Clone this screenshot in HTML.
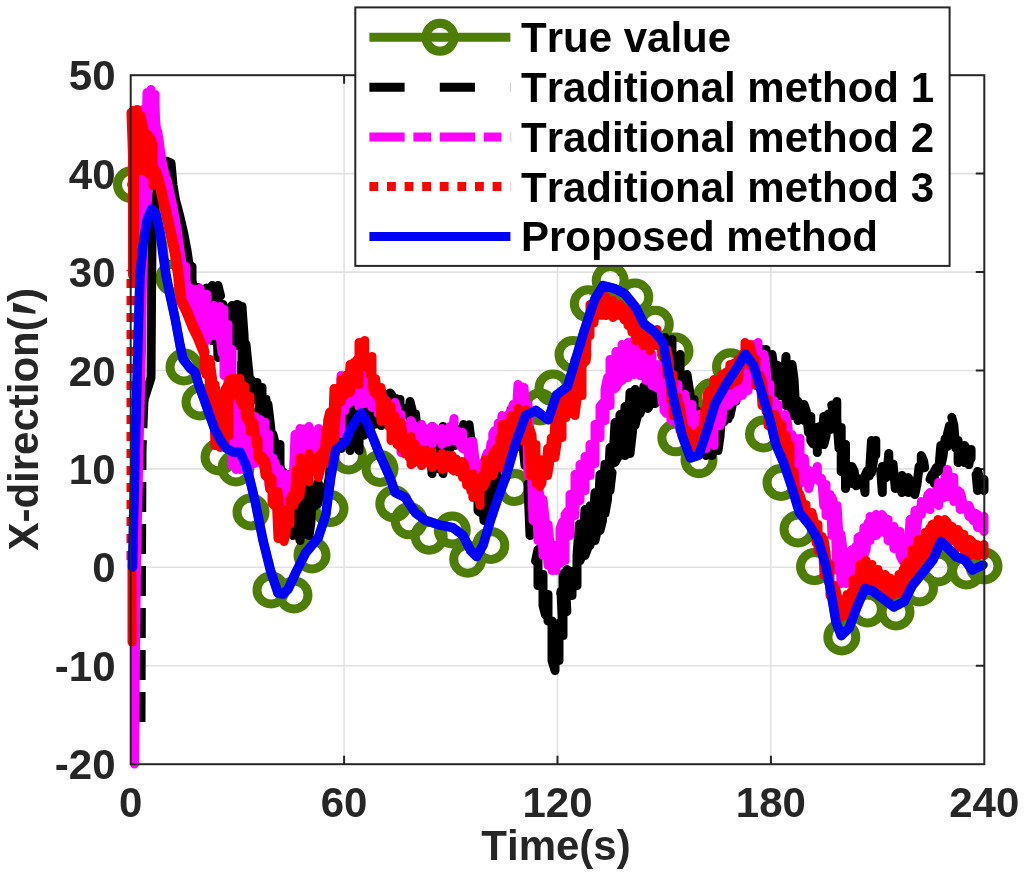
<!DOCTYPE html>
<html><head><meta charset="utf-8"><title>X-direction plot</title>
<style>html,body{margin:0;padding:0;background:#fff;overflow:hidden}svg{display:block}</style>
</head><body>
<svg width="1025" height="877" viewBox="0 0 1025 877">
<rect width="1025" height="877" fill="#fff"/>
<g stroke="#e1e1e1" stroke-width="1.6"><line x1="344.1" y1="75.2" x2="344.1" y2="764.2"/><line x1="557.5" y1="75.2" x2="557.5" y2="764.2"/><line x1="770.9" y1="75.2" x2="770.9" y2="764.2"/><line x1="130.7" y1="173.6" x2="984.3" y2="173.6"/><line x1="130.7" y1="272.1" x2="984.3" y2="272.1"/><line x1="130.7" y1="370.5" x2="984.3" y2="370.5"/><line x1="130.7" y1="468.9" x2="984.3" y2="468.9"/><line x1="130.7" y1="567.3" x2="984.3" y2="567.3"/><line x1="130.7" y1="665.8" x2="984.3" y2="665.8"/></g>
<path d="M344.1 764.2V755.7M344.1 75.2V83.7M557.5 764.2V755.7M557.5 75.2V83.7M770.9 764.2V755.7M770.9 75.2V83.7M130.7 173.6H139.2M984.3 173.6H975.8M130.7 272.1H139.2M984.3 272.1H975.8M130.7 370.5H139.2M984.3 370.5H975.8M130.7 468.9H139.2M984.3 468.9H975.8M130.7 567.3H139.2M984.3 567.3H975.8M130.7 665.8H139.2M984.3 665.8H975.8" stroke="#262626" stroke-width="2" fill="none"/>
<g fill="none" stroke-linejoin="round" stroke-linecap="round">
<polyline stroke="#4d7d05" stroke-width="9.0" points="131.5,184.7 140.0,170.0 147.0,172.0 151.0,190.0 156.0,215.0 163.0,245.0 166.0,275.0 170.0,295.0 175.0,318.0 180.0,345.0 183.0,359.0 190.7,368.7 195.0,372.0 198.7,384.7 203.9,399.0 206.7,407.0 212.8,424.0 214.7,429.4 221.7,442.0 226.0,448.0 233.0,452.0 240.0,452.0 246.0,465.0 250.0,480.0 255.4,502.7 263.0,540.4 270.5,570.5 278.0,593.0 283.0,594.0 288.0,589.3 295.6,573.0 305.6,552.9 318.2,537.8 325.7,515.3 330.7,477.6 335.7,450.0 345.8,441.0 350.0,430.5 356.0,420.0 361.3,412.9 366.0,420.0 370.1,430.5 380.1,455.5 390.2,478.1 395.2,492.6 405.2,497.6 415.3,512.6 425.3,520.2 440.4,525.2 452.9,527.7 462.9,535.2 470.5,550.3 476.7,556.6 483.0,545.3 490.5,520.2 498.1,497.6 505.6,477.5 515.6,443.0 525.6,415.4 535.7,410.4 545.7,417.9 548.2,419.7 556.4,395.0 567.4,386.8 575.6,359.5 583.8,332.1 594.7,299.3 603.0,285.6 613.9,288.3 624.8,293.8 635.8,307.5 644.0,323.9 655.0,332.1 663.2,343.0 668.6,373.2 674.1,400.5 682.3,436.1 690.5,458.0 698.7,455.3 707.0,430.6 715.2,403.3 726.1,384.1 737.0,367.7 745.3,354.0 753.5,365.0 761.7,392.3 769.9,419.7 775.7,444.2 783.6,462.6 791.5,486.2 799.3,512.5 809.8,525.6 817.7,538.7 825.6,564.9 830.8,591.1 836.1,622.6 841.3,635.7 849.2,627.8 857.0,606.9 864.9,588.5 872.8,591.1 883.3,599.0 893.8,606.9 904.2,601.6 912.1,585.9 922.6,572.8 933.1,559.7 941.0,541.3 948.8,549.2 956.7,557.0 964.6,559.7 972.4,570.1 982.9,564.9"/>
<circle cx="131.5" cy="184.7" r="14" stroke="#4d7d05" stroke-width="9"/>
<circle cx="174.0" cy="278.0" r="14" stroke="#4d7d05" stroke-width="9"/>
<circle cx="184.0" cy="367.0" r="14" stroke="#4d7d05" stroke-width="9"/>
<circle cx="200.0" cy="402.0" r="14" stroke="#4d7d05" stroke-width="9"/>
<circle cx="219.0" cy="457.0" r="14" stroke="#4d7d05" stroke-width="9"/>
<circle cx="236.0" cy="468.0" r="14" stroke="#4d7d05" stroke-width="9"/>
<circle cx="251.0" cy="512.0" r="14" stroke="#4d7d05" stroke-width="9"/>
<circle cx="271.0" cy="590.0" r="14" stroke="#4d7d05" stroke-width="9"/>
<circle cx="294.0" cy="595.0" r="14" stroke="#4d7d05" stroke-width="9"/>
<circle cx="312.0" cy="555.0" r="14" stroke="#4d7d05" stroke-width="9"/>
<circle cx="330.0" cy="508.6" r="14" stroke="#4d7d05" stroke-width="9"/>
<circle cx="348.5" cy="456.0" r="14" stroke="#4d7d05" stroke-width="9"/>
<circle cx="380.0" cy="468.5" r="14" stroke="#4d7d05" stroke-width="9"/>
<circle cx="393.8" cy="503.8" r="14" stroke="#4d7d05" stroke-width="9"/>
<circle cx="409.2" cy="520.8" r="14" stroke="#4d7d05" stroke-width="9"/>
<circle cx="429.2" cy="536.2" r="14" stroke="#4d7d05" stroke-width="9"/>
<circle cx="452.3" cy="530.0" r="14" stroke="#4d7d05" stroke-width="9"/>
<circle cx="467.7" cy="559.2" r="14" stroke="#4d7d05" stroke-width="9"/>
<circle cx="490.8" cy="545.4" r="14" stroke="#4d7d05" stroke-width="9"/>
<circle cx="514.5" cy="487.5" r="14" stroke="#4d7d05" stroke-width="9"/>
<circle cx="540.0" cy="407.0" r="14" stroke="#4d7d05" stroke-width="9"/>
<circle cx="553.0" cy="388.0" r="14" stroke="#4d7d05" stroke-width="9"/>
<circle cx="573.0" cy="354.5" r="14" stroke="#4d7d05" stroke-width="9"/>
<circle cx="588.3" cy="303.8" r="14" stroke="#4d7d05" stroke-width="9"/>
<circle cx="610.2" cy="280.5" r="14" stroke="#4d7d05" stroke-width="9"/>
<circle cx="634.8" cy="297.0" r="14" stroke="#4d7d05" stroke-width="9"/>
<circle cx="655.3" cy="324.3" r="14" stroke="#4d7d05" stroke-width="9"/>
<circle cx="675.0" cy="351.0" r="14" stroke="#4d7d05" stroke-width="9"/>
<circle cx="675.8" cy="437.8" r="14" stroke="#4d7d05" stroke-width="9"/>
<circle cx="699.0" cy="459.7" r="14" stroke="#4d7d05" stroke-width="9"/>
<circle cx="711.4" cy="396.8" r="14" stroke="#4d7d05" stroke-width="9"/>
<circle cx="730.5" cy="366.7" r="14" stroke="#4d7d05" stroke-width="9"/>
<circle cx="763.5" cy="434.0" r="14" stroke="#4d7d05" stroke-width="9"/>
<circle cx="781.0" cy="482.5" r="14" stroke="#4d7d05" stroke-width="9"/>
<circle cx="798.0" cy="529.0" r="14" stroke="#4d7d05" stroke-width="9"/>
<circle cx="814.5" cy="566.6" r="14" stroke="#4d7d05" stroke-width="9"/>
<circle cx="841.8" cy="637.0" r="14" stroke="#4d7d05" stroke-width="9"/>
<circle cx="867.5" cy="609.0" r="14" stroke="#4d7d05" stroke-width="9"/>
<circle cx="896.0" cy="612.0" r="14" stroke="#4d7d05" stroke-width="9"/>
<circle cx="919.5" cy="588.0" r="14" stroke="#4d7d05" stroke-width="9"/>
<circle cx="938.0" cy="568.0" r="14" stroke="#4d7d05" stroke-width="9"/>
<circle cx="966.5" cy="571.0" r="14" stroke="#4d7d05" stroke-width="9"/>
<circle cx="984.0" cy="566.0" r="14" stroke="#4d7d05" stroke-width="9"/>
<polyline stroke="#000000" stroke-width="9.0" stroke-linecap="butt" stroke-dasharray="30 12" points="141.0,722.0 141.5,560.0 142.0,450.0 144.0,400.0"/>
<polyline stroke="#000000" stroke-width="9.0" points="144.0,400.0 151.0,378.0 151.5,300.0 152.0,240.0 156.0,200.0 161.0,170.0 166.0,161.0 171.0,163.0 173.0,185.0 175.5,200.0 179.5,215.0 183.5,232.0 187.0,250.0 189.5,268.0 192.0,282.0 195.0,290.0"/>
<polyline stroke="#000000" stroke-width="9.0" stroke-dasharray="150 30" points="192.0,266.5 192.0,287.5 194.0,295.1 196.0,287.7 198.0,313.5 198.0,287.5 200.0,294.5 202.0,311.2 204.0,292.0 206.0,313.5 206.0,287.5 208.0,292.4 210.0,321.2 212.0,285.5 212.0,340.5 214.0,329.4 216.0,287.7 218.0,357.5 218.0,285.5 220.5,295.6 223.0,357.5 223.0,304.5 225.5,319.3 228.0,340.5 228.0,309.5 230.0,312.5 232.0,340.5 232.0,305.5 234.5,315.1 237.0,345.5 237.0,304.5 239.5,305.5 242.0,382.5 242.0,306.5 244.0,334.6 246.0,385.5 246.0,344.5 248.5,369.2 251.0,395.5 251.0,379.5 253.0,382.2 255.0,399.8 257.0,382.5 257.0,415.5 259.5,407.2 262.0,387.5 262.0,419.5 264.0,429.1 266.0,399.2 268.0,449.5 268.0,404.5 270.5,425.4 273.0,451.5 273.0,434.5 275.3,443.9 277.7,458.2 280.0,444.5 280.0,465.5 282.3,477.0 284.7,468.6 287.0,505.5 287.0,474.5 289.0,487.5 291.0,523.5 293.0,512.5 293.0,535.5 295.3,532.1 297.7,502.7 300.0,540.5 300.0,486.5 301.8,490.1 303.6,534.2 305.4,488.2 307.2,527.9 309.0,482.5 309.0,535.5 310.8,524.4 312.6,482.8 314.4,506.4 316.2,487.8 318.0,503.5 318.0,482.5 319.8,487.2 321.6,496.6 323.4,488.2 325.2,489.8 327.0,486.5 327.0,488.5 329.0,478.9 331.0,455.4 333.0,454.8 335.0,420.5 335.0,451.5 337.0,442.3 339.0,426.0 341.0,448.5 341.0,411.5 342.8,415.0 344.6,436.9 346.4,415.0 348.2,445.0 350.0,399.5 350.0,450.5 351.8,439.9 353.6,414.4 355.4,434.9 357.2,406.5 359.0,450.5 359.0,396.5 361.5,405.7 364.0,435.5 364.0,395.5 366.0,397.4 368.0,427.8 370.0,407.8 372.0,425.5 372.0,401.5 373.8,403.6 375.6,423.9 377.4,402.2 379.2,418.0 381.0,393.5 381.0,425.5 382.8,412.9 384.6,396.0 386.4,403.8 388.2,394.5 390.0,393.0 390.0,393.0 392.0,395.4 394.0,400.6 396.0,398.4 398.0,408.7 400.0,399.5 400.0,415.5 402.0,415.7 404.0,400.5 406.0,412.8 408.0,406.6 410.0,417.5 410.0,401.5 411.8,408.7 413.7,423.0 415.5,414.0 417.3,430.0 419.2,426.2 421.0,440.5 421.0,424.5 422.8,430.5 424.7,446.5 426.5,435.0 428.3,459.5 430.2,433.7 432.0,473.5 432.0,426.5 433.8,442.2 435.7,464.0 437.5,434.1 439.3,469.1 441.2,435.5 443.0,473.5 443.0,426.5 445.0,441.0 447.0,464.1 449.0,436.6 451.0,447.3 453.0,435.6 455.0,445.5 455.0,429.5 457.1,432.1 459.3,436.7 461.5,428.0 463.6,435.5 463.6,424.5 465.5,426.9 467.3,436.0 469.1,424.8 471.0,440.5 471.0,424.5 473.3,451.5 475.7,483.3 478.0,489.5 478.0,510.5 480.0,512.2 482.0,497.1 484.0,520.5 484.0,494.5 486.0,495.9 488.0,513.5 490.0,484.5 490.0,515.5 492.3,504.7 494.7,471.6 497.0,495.5 497.0,454.5 499.3,453.4 501.7,466.7 504.0,424.5 504.0,465.5 506.3,452.5 508.7,414.9 511.0,445.5 511.0,409.5 513.3,415.5 515.7,443.7 518.0,419.5 518.0,445.5 520.3,447.2 522.7,443.0 525.0,465.5 525.0,444.5 527.5,474.6 530.0,535.5 530.0,484.5 533.0,524.5 533.0,555.5 535.5,561.2 538.0,549.5 538.0,585.5 540.5,585.9 543.0,574.5 543.0,605.5 545.5,615.0 548.0,594.5 548.0,630.5 550.0,634.2 552.0,619.5 552.0,660.5 555.0,670.5 555.0,644.5 557.0,634.2 559.0,660.5 559.0,604.5 561.0,591.2 563.0,635.5 563.0,574.5 565.0,572.3 567.0,615.5 567.0,569.5 569.5,571.2 572.0,595.5 572.0,572.5 574.5,570.6 577.0,585.5 577.0,554.5 580.0,516.5 580.0,560.5 582.5,554.1 585.0,509.5 585.0,555.5 587.5,548.8 590.0,500.5 590.0,545.5 592.5,532.8 595.0,492.5 595.0,540.5 597.5,529.2 600.0,474.5 600.0,530.5 602.5,520.7 605.0,462.5 605.0,513.5 607.5,499.4 610.0,447.5 610.0,490.5 612.5,468.8 615.0,422.5 615.0,462.5 617.5,457.6 620.0,414.5 620.0,457.5 622.5,452.1 625.0,406.5 625.0,455.5 627.5,440.8 630.0,392.5 630.0,453.5 632.5,431.8 635.0,389.5 635.0,425.5 637.5,415.8 640.0,384.5 640.0,413.5 642.0,407.8 644.0,386.2 646.0,406.6 648.0,387.5 648.0,408.5 650.3,404.0 652.7,388.7 655.0,403.5 655.0,387.5 657.5,388.1 660.0,404.5 660.0,387.5 662.5,369.6 665.0,365.5 665.0,337.5 667.3,344.2 669.7,375.9 672.0,339.5 672.0,385.5 674.0,378.5 676.0,359.4 678.0,392.7 680.0,354.5 680.0,395.5 682.3,397.6 684.7,369.5 687.0,402.5 687.0,374.5 689.3,388.9 691.7,410.0 694.0,399.5 694.0,415.5 696.0,417.4 698.0,411.5 700.0,435.5 700.0,409.5 702.0,419.8 704.0,446.6 706.0,424.5 706.0,455.5 708.0,444.3 710.0,430.8 712.0,455.5 712.0,419.5 714.0,423.0 716.0,449.1 718.0,409.5 718.0,450.5 720.0,436.6 722.0,408.0 724.0,435.5 724.0,399.5 726.0,402.8 728.0,418.9 730.0,389.5 730.0,415.5 732.0,406.0 734.0,384.0 736.0,401.1 738.0,385.0 740.0,395.5 740.0,374.5 742.0,378.2 744.0,389.0 746.0,372.7 748.0,384.8 750.0,359.5 750.0,385.5 752.0,376.3 754.0,363.3 756.0,380.8 758.0,354.5 760.0,385.5 760.0,349.5 762.0,349.6 764.0,379.0 766.0,349.5 766.0,395.5 768.0,394.9 770.0,365.1 772.0,395.5 772.0,354.5 774.0,368.7 776.0,387.6 778.0,356.5 778.0,395.5 780.0,395.5 782.0,369.9 784.0,387.2 786.0,356.5 786.0,405.5 788.0,396.6 790.0,370.8 792.0,415.5 792.0,364.5 794.0,378.7 796.0,414.3 798.0,389.5 798.0,420.5 800.0,418.6 802.0,404.5 804.0,420.5 804.0,404.5 806.3,411.3 808.5,432.4 810.8,416.5 810.8,440.5 813.0,443.9 815.1,429.7 817.3,453.5 817.3,427.5 819.5,426.6 821.6,442.7 823.8,416.5 823.8,444.5 826.0,436.2 828.1,414.1 830.3,429.5 830.3,399.5 832.5,408.2 834.6,422.0 836.8,401.5 836.8,418.5 839.0,448.4 841.2,427.5 841.2,483.5 843.4,480.3 845.5,444.5 845.5,488.5 847.7,474.7 849.8,466.3 852.0,483.5 852.0,466.5 854.2,471.4 856.3,485.8 858.5,475.5 858.5,488.5 860.7,486.4 862.8,480.1 865.0,492.5 865.0,475.5 867.2,471.0 869.3,475.9 871.5,440.5 871.5,472.5 873.6,460.5 875.8,440.5 875.8,466.5 878.0,468.9 880.1,462.2 882.3,492.5 882.3,466.5 884.5,470.3 886.6,477.4 888.8,453.5 888.8,472.5 891.0,472.9 893.1,464.1 895.3,488.5 895.3,468.5 897.5,472.0 899.6,485.4 901.8,475.5 901.8,492.5 904.0,491.3 906.1,481.0 908.3,492.5 908.3,477.5 910.5,482.6 912.6,490.4 914.8,484.5 914.8,494.5 917.0,484.4 919.1,466.6 921.3,468.5 921.3,455.5 923.5,460.6 925.6,472.8 927.8,466.5 927.8,481.5 930.0,479.2 932.1,474.2 934.3,483.5 934.3,471.5 936.5,467.5 938.6,471.3 940.8,445.5 940.8,466.5 943.0,456.4 945.1,438.7 947.3,446.5 947.3,434.5 949.5,425.7 951.6,440.5 951.6,416.5 953.8,425.1 955.9,448.3 958.1,440.5 958.1,462.5 960.3,456.9 962.4,449.2 964.6,462.5 964.6,445.5 966.8,449.1 968.9,464.6 971.1,449.5 971.1,472.5 973.3,472.6 975.4,466.9 977.6,490.5 977.6,471.5 979.7,477.4 981.9,489.4 984.0,479.5 984.0,490.5"/>
<polyline stroke="#ff00ff" stroke-width="9.0" points="134.5,764.0 135.5,650.0 136.5,560.0 139.0,450.0 141.5,350.0 143.0,250.0 144.0,175.0 146.0,130.0 148.0,100.0 150.8,94.0 154.0,97.0 156.0,125.0 160.0,152.0 165.0,175.0 172.0,210.0 178.0,240.0 183.0,275.0 188.0,290.0 193.0,300.0"/>
<polyline stroke="#ff00ff" stroke-width="13" points="165.0,180.0 170.5,205.0 175.5,232.0 179.0,258.0 183.0,280.0 188.0,294.0"/>
<polyline stroke="#ff00ff" stroke-width="9.0" points="139.0,176.5 139.0,217.5 141.0,201.3 143.0,109.5 143.0,217.5 145.0,184.7 147.0,92.5 147.0,210.5 149.0,162.8 151.0,89.5 151.0,170.5 153.0,141.3 155.0,94.5 155.0,160.5 158.0,167.5 158.0,132.5 161.0,154.5 161.0,173.5"/>
<polyline stroke="#ff00ff" stroke-width="9.0" points="186.0,266.5 186.0,301.5 188.5,298.1 191.0,288.5 191.0,315.5 192.8,308.5 194.6,289.2 196.4,323.4 198.2,299.9 200.0,330.5 200.0,288.5 202.3,301.7 204.7,326.7 207.0,294.5 207.0,340.5 209.3,334.4 211.7,309.3 214.0,335.5 214.0,305.5 216.0,312.1 218.0,329.5 220.0,306.5 220.0,335.5 222.0,352.9 224.0,309.5 224.0,375.5 226.0,370.9 228.0,324.5 228.0,385.5 230.0,413.3 232.0,349.5 232.0,465.5 234.0,443.3 236.0,394.5 236.0,469.5 238.0,446.0 240.0,409.5 240.0,469.5 242.5,450.2 245.0,413.5 245.0,469.5 247.5,457.3 250.0,414.5 250.0,465.5 252.5,456.9 255.0,416.5 255.0,463.5 257.5,457.9 260.0,419.5 260.0,460.5 262.5,464.9 265.0,422.5 265.0,470.5 267.0,477.5 269.0,434.5 269.0,485.5 271.0,482.9 273.0,457.9 275.0,500.5 275.0,462.5 277.5,471.0 280.0,506.5 280.0,469.5 282.0,482.2 284.0,500.3 286.0,474.5 286.0,506.5 288.5,497.8 291.0,474.5 291.0,500.5 293.0,486.1 295.0,434.5 295.0,477.5 297.5,467.2 300.0,428.5 300.0,457.5 301.8,453.3 303.6,429.0 305.4,449.6 307.2,436.2 309.0,452.5 309.0,426.5 310.9,432.8 312.8,449.4 314.7,434.7 316.6,443.4 318.5,428.5 318.5,448.5 320.3,443.5 322.1,434.0 324.0,443.4 325.8,432.2 327.6,450.5 327.6,424.5 329.7,421.5 331.9,433.5 334.0,404.5 334.0,442.5 336.3,424.5 338.7,388.1 341.0,433.5 341.0,375.5 342.8,390.5 344.6,410.6 346.4,386.4 348.2,403.9 350.0,384.5 350.0,402.5 351.8,399.9 353.6,389.5 355.4,400.8 357.2,387.8 359.0,406.5 359.0,379.5 361.0,381.6 363.0,396.0 365.0,375.5 365.0,403.5 367.3,397.1 369.7,388.3 372.0,407.5 372.0,389.5 374.0,396.9 376.0,407.2 378.0,402.5 378.0,413.5 380.0,411.0 382.0,403.7 384.0,413.9 386.0,400.5 386.0,415.5 387.8,414.2 389.6,405.0 391.4,415.8 393.2,406.9 395.0,417.5 395.0,402.5 397.0,408.6 399.0,431.2 401.0,414.5 401.0,452.5 403.0,446.4 405.0,427.2 407.0,438.6 409.0,423.5 411.0,440.5 411.0,420.5 413.1,424.9 415.2,437.5 417.3,427.0 419.4,441.5 421.5,424.5 421.5,444.5 423.6,443.1 425.7,428.7 427.8,438.4 429.9,430.1 432.0,444.5 432.0,426.5 434.0,427.4 436.0,439.6 438.0,432.0 440.0,439.3 442.0,428.5 442.0,444.5 444.0,442.7 446.0,429.9 448.0,442.1 450.0,426.4 452.0,439.2 454.0,418.5 454.0,440.5 456.1,440.9 458.3,431.3 460.5,445.8 462.6,432.5 462.6,448.5 464.6,449.3 466.7,442.3 468.7,459.1 470.8,441.6 472.8,469.5 472.8,441.5 475.4,463.0 478.0,481.5 478.0,473.5 479.9,470.7 481.8,471.5 483.6,461.6 485.5,465.5 485.5,457.5 487.3,452.8 489.1,457.2 491.0,443.0 492.8,450.5 492.8,433.5 494.6,430.5 496.5,442.4 498.3,422.9 500.2,442.5 502.0,415.5 502.0,450.5 503.8,446.7 505.6,416.5 507.4,432.1 509.2,413.6 511.0,432.5 511.0,411.5 513.3,404.3 515.7,421.0 518.0,384.5 518.0,428.5 520.0,418.9 522.0,387.0 524.0,415.5 524.0,387.5 526.0,413.2 528.0,475.5 528.0,404.5 530.5,440.7 533.0,520.5 533.0,470.5 535.5,478.2 538.0,540.5 538.0,484.5 540.5,498.7 543.0,555.5 543.0,499.5 545.5,522.4 548.0,565.5 548.0,524.5 550.0,543.2 552.0,570.5 552.0,544.5 554.0,552.7 556.0,570.5 556.0,559.5 558.0,546.7 560.0,563.5 560.0,528.5 562.5,521.9 565.0,560.5 565.0,514.5 567.5,511.3 570.0,535.5 570.0,494.5 572.5,495.5 575.0,515.5 575.0,474.5 577.5,479.5 580.0,500.5 580.0,464.5 582.5,471.5 585.0,490.5 585.0,456.5 587.5,459.1 590.0,475.5 590.0,444.5 592.5,445.1 595.0,463.5 595.0,424.5 597.5,424.1 600.0,437.5 600.0,406.5 602.5,403.1 605.0,420.5 605.0,389.5 607.5,377.5 610.0,405.5 610.0,359.5 612.0,366.7 614.0,389.1 616.0,351.5 616.0,387.5 618.0,383.9 620.0,352.5 622.0,380.5 622.0,344.5 624.0,354.8 626.0,376.9 628.0,342.5 628.0,377.5 630.0,369.4 632.0,345.9 634.0,374.5 634.0,340.5 636.0,347.2 638.0,373.5 640.0,342.5 640.0,375.5 642.0,366.0 644.0,348.2 646.0,380.5 646.0,346.5 648.0,356.2 650.0,379.1 652.0,354.5 652.0,385.5 654.0,386.3 656.0,366.3 658.0,388.5 658.0,364.5 660.0,368.6 662.0,402.5 664.0,372.5 664.0,410.5 666.3,413.4 668.7,382.6 671.0,420.5 671.0,384.5 673.3,385.8 675.7,415.1 678.0,384.5 678.0,425.5 680.3,421.5 682.7,405.3 685.0,435.5 685.0,394.5 687.3,411.0 689.7,427.0 692.0,404.5 692.0,443.5 694.0,440.5 696.0,414.8 698.0,440.7 700.0,414.5 700.0,443.5 702.0,438.7 704.0,420.5 706.0,448.5 706.0,412.5 708.0,420.9 710.0,437.4 712.0,410.1 714.0,445.5 714.0,404.5 716.0,403.9 718.0,424.6 720.0,384.5 720.0,425.5 722.0,420.4 724.0,382.4 726.0,406.2 728.0,379.5 728.0,405.5 730.3,402.9 732.7,385.2 735.0,400.5 735.0,379.5 737.3,379.6 739.7,396.4 742.0,374.5 742.0,395.5 744.0,392.4 746.0,369.8 748.0,390.5 748.0,364.5 750.0,359.9 752.0,375.2 754.0,344.5 754.0,375.5 756.0,366.1 758.0,342.5 758.0,365.5 760.0,372.4 762.0,358.4 764.0,395.5 764.0,354.5 766.0,367.2 768.0,395.7 770.0,384.5 770.0,410.5 772.0,405.9 774.0,400.5 776.0,418.4 778.0,404.5 778.0,425.5 780.3,425.1 782.7,415.4 785.0,435.5 785.0,414.5 787.3,421.5 789.7,442.9 792.0,434.5 792.0,450.5 794.0,454.5 796.0,438.4 798.0,474.0 800.0,438.5 800.0,483.5 802.2,474.0 804.4,458.5 806.5,482.8 808.7,470.5 808.7,488.5 810.9,480.5 813.0,471.6 815.1,479.0 817.3,466.5 817.3,477.5 819.5,481.5 821.6,478.2 823.8,505.8 826.0,484.5 826.0,515.5 828.0,514.2 830.0,494.4 832.0,535.5 832.0,497.5 834.5,507.0 837.0,570.5 837.0,505.5 839.0,536.8 841.0,583.5 841.0,534.5 843.5,553.3 846.0,583.5 846.0,553.5 848.0,552.3 850.0,573.8 852.0,549.5 852.0,575.5 854.0,568.3 856.0,546.1 858.0,565.5 858.0,537.5 860.0,536.2 862.0,553.1 864.0,527.5 864.0,555.5 866.0,549.8 868.0,522.7 870.0,540.5 870.0,516.5 872.0,518.8 874.0,530.0 876.0,514.5 876.0,535.5 878.0,533.6 880.0,519.3 882.0,531.5 882.0,514.5 884.0,517.4 886.0,533.6 888.0,519.5 888.0,540.5 890.0,540.2 892.0,527.7 894.0,548.5 894.0,526.5 896.0,534.1 898.0,549.9 900.0,531.5 900.0,555.5 902.5,560.4 905.0,540.5 905.0,567.5 907.5,560.2 910.0,519.5 910.0,555.5 912.5,547.1 915.0,510.5 915.0,540.5 917.1,524.6 919.2,508.7 921.3,514.5 921.3,501.5 923.5,504.0 925.6,508.4 927.8,494.9 930.0,509.5 930.0,492.5 932.1,494.3 934.3,502.1 936.5,490.4 938.6,505.5 938.6,482.5 940.8,483.4 943.0,497.9 945.1,476.9 947.3,496.5 947.3,469.5 949.5,479.4 951.6,497.5 953.8,477.5 953.8,501.5 956.0,500.2 958.1,490.7 960.3,509.5 960.3,492.5 962.5,500.9 964.6,509.1 966.8,506.3 969.0,516.5 969.0,505.5 971.1,511.1 973.3,520.8 975.5,513.3 977.6,527.5 977.6,514.5 979.7,517.5 981.9,528.9 984.0,516.5 984.0,531.5"/>
<polyline stroke="#ff0000" stroke-width="9.0" points="132.0,642.0 132.0,560.0"/>
<polyline stroke="#ff0000" stroke-width="9.0" stroke-linecap="butt" stroke-dasharray="9 8" points="131.0,560.0 131.0,270.0"/>
<polyline stroke="#ff0000" stroke-width="11" points="133.5,112.0 133.5,275.0"/>
<polyline stroke="#ff0000" stroke-width="11" points="150.0,165.0 156.0,172.0 161.0,190.0 165.5,210.0 170.0,230.0 175.0,252.6 178.5,275.0 181.0,300.0 186.6,311.0 193.0,327.0 198.0,337.0 204.0,352.0"/>
<polyline stroke="#ff0000" stroke-width="9.0" points="131.0,112.5 131.0,113.5 133.0,170.5 133.0,110.5 135.0,126.8 137.0,170.5 137.0,109.5 139.0,129.2 141.0,170.5 141.0,115.5 144.0,129.5 144.0,170.5 146.0,165.2 148.0,134.5 148.0,173.5 151.0,175.5 151.0,138.5 153.0,144.5 153.0,185.5"/>
<polyline stroke="#ff0000" stroke-width="9.0" points="204.0,347.5 204.0,367.5 206.0,374.7 208.0,361.3 210.0,395.5 210.0,359.5 212.5,378.3 215.0,445.5 215.0,384.5 217.5,401.5 220.0,447.5 220.0,394.5 222.5,403.9 225.0,445.5 225.0,389.5 227.0,385.8 229.0,435.5 229.0,379.5 232.0,378.5 232.0,395.5 234.0,394.4 236.0,378.5 236.0,393.5 238.0,391.6 240.0,378.5 240.0,400.5 242.5,405.7 245.0,386.5 245.0,415.5 247.5,420.9 250.0,396.5 250.0,431.5 252.0,427.3 254.0,422.4 256.0,444.5 258.0,439.5 258.0,457.5 260.3,460.6 262.7,456.6 265.0,475.5 265.0,459.5 267.3,466.8 269.7,489.3 272.0,478.5 272.0,503.5 274.0,505.3 276.0,494.4 278.0,538.5 278.0,491.5 280.0,508.4 282.0,531.8 284.0,509.5 284.0,541.5 286.0,534.8 288.0,509.9 290.0,523.5 290.0,499.5 292.0,494.9 294.0,505.1 296.0,469.5 296.0,500.5 298.0,497.6 300.0,457.5 300.0,495.5 301.8,481.8 303.6,461.5 305.4,479.0 307.2,463.5 309.0,481.5 309.0,453.5 310.9,460.6 312.8,471.6 314.7,458.1 316.6,471.8 318.5,455.5 318.5,477.5 320.3,470.6 322.1,451.5 324.0,458.5 325.8,428.8 327.6,463.5 327.6,420.5 329.7,412.1 331.9,446.3 334.0,388.5 334.0,443.5 336.3,414.6 338.7,387.5 341.0,401.5 341.0,379.5 342.8,381.6 344.6,395.3 346.4,375.0 348.2,390.7 350.0,364.5 350.0,392.5 351.8,387.1 353.6,362.6 355.4,380.3 357.2,359.3 359.0,384.5 359.0,342.5 360.9,350.6 362.8,362.3 364.7,340.5 364.7,366.5 366.5,363.6 368.4,358.4 370.2,375.3 372.0,356.5 372.0,387.5 373.8,392.5 375.6,378.6 377.4,396.8 379.2,391.9 381.0,421.5 381.0,387.5 383.0,398.1 385.0,420.6 387.0,401.4 389.0,426.8 391.0,406.5 391.0,440.5 393.0,435.6 395.0,416.0 397.0,444.7 399.0,427.5 401.0,448.5 401.0,422.5 403.0,434.4 405.0,454.1 407.0,438.5 409.0,457.3 411.0,436.5 411.0,464.5 413.1,463.3 415.2,444.1 417.3,459.5 419.4,452.5 421.5,465.5 421.5,449.5 423.6,450.1 425.7,462.9 427.8,451.0 429.9,463.1 432.0,451.5 432.0,467.5 434.0,466.0 436.0,457.2 438.0,463.2 440.0,455.9 442.0,469.5 442.0,453.5 444.0,459.4 446.0,467.9 448.0,455.1 450.0,466.5 452.0,455.5 452.0,469.5 454.1,470.9 456.2,458.9 458.4,472.1 460.5,463.6 462.6,477.5 462.6,461.5 464.6,464.9 466.7,485.2 468.7,475.0 470.8,491.0 472.8,473.5 472.8,497.5 475.2,491.8 477.6,485.0 480.0,505.5 480.0,478.5 481.8,475.6 483.7,486.8 485.5,459.5 485.5,483.5 487.3,477.2 489.1,461.3 491.0,472.7 492.8,452.5 492.8,475.5 494.6,468.8 496.5,448.1 498.3,459.6 500.2,437.2 502.0,468.5 502.0,424.5 503.8,429.3 505.6,453.2 507.4,422.7 509.2,455.2 511.0,415.5 511.0,457.5 513.3,438.4 515.7,417.2 518.0,439.5 518.0,408.5 519.9,414.7 521.9,440.4 523.8,413.9 525.7,441.5 525.7,409.5 527.9,427.4 530.0,475.5 530.0,429.5 532.0,434.8 534.0,471.9 536.0,444.5 536.0,483.5 538.0,477.7 540.0,459.5 540.0,486.5 541.9,483.2 543.8,459.9 545.7,473.8 547.6,448.5 547.6,475.5 549.5,463.9 551.3,438.0 553.1,453.3 555.0,419.5 555.0,457.5 557.3,441.1 559.7,407.1 562.0,437.5 562.0,400.5 563.9,396.8 565.8,417.5 567.6,398.0 569.5,413.5 569.5,382.5 571.3,378.3 573.2,407.2 575.0,359.5 575.0,415.5 577.3,397.2 579.7,352.4 582.0,395.5 582.0,339.5 584.0,337.1 586.0,360.7 588.0,318.1 590.0,335.5 590.0,304.5 592.0,307.9 594.0,322.8 596.0,300.1 598.0,315.5 598.0,294.5 600.0,300.5 602.0,315.3 604.0,299.9 606.0,315.5 606.0,296.5 608.3,302.6 610.7,314.9 613.0,300.5 613.0,317.5 615.3,315.7 617.7,306.8 620.0,315.5 620.0,304.5 622.0,306.8 624.0,319.6 626.0,310.5 628.0,325.5 628.0,309.5 630.0,316.2 632.0,332.3 634.0,319.2 636.0,340.5 636.0,319.5 638.3,326.6 640.7,339.7 643.0,334.5 643.0,345.5 645.3,345.2 647.7,338.8 650.0,350.5 650.0,334.5 652.3,333.8 654.7,345.3 657.0,329.5 657.0,345.5 659.0,345.6 661.0,343.4 663.0,355.5 663.0,344.5 665.0,349.9 667.0,375.5 667.0,349.5 669.0,360.3 671.0,400.6 673.0,374.5 673.0,415.5 675.3,413.8 677.7,396.6 680.0,430.5 680.0,404.5 682.3,419.2 684.7,434.8 687.0,429.5 687.0,445.5 689.3,445.2 691.7,434.2 694.0,447.5 694.0,434.5 696.0,436.8 698.0,442.8 700.0,429.5 700.0,445.5 702.3,432.9 704.7,409.3 707.0,425.5 707.0,394.5 709.3,390.8 711.7,409.3 714.0,379.5 714.0,405.5 716.0,395.2 718.0,379.0 720.0,392.0 722.0,374.5 722.0,390.5 724.0,386.7 726.0,372.2 728.0,383.9 730.0,364.5 730.0,385.5 732.0,377.5 734.0,363.1 736.0,381.7 738.0,359.5 738.0,380.5 740.3,367.2 742.7,354.0 745.0,360.5 745.0,342.5 747.5,350.2 750.0,365.5 750.0,344.5 752.0,352.9 754.0,370.7 756.0,359.5 756.0,385.5 758.0,383.7 760.0,374.9 762.0,405.5 762.0,379.5 764.0,393.0 766.0,411.2 768.0,399.5 768.0,425.5 770.3,424.5 772.7,414.2 775.0,440.5 775.0,414.5 777.3,420.6 779.7,447.0 782.0,424.5 782.0,455.5 784.0,458.0 786.0,435.2 788.0,464.1 790.0,444.5 790.0,475.5 792.0,479.1 794.0,471.2 796.0,494.4 798.0,489.7 800.0,507.5 800.0,494.5 802.0,501.2 804.0,511.3 806.0,504.5 806.0,520.5 808.0,517.9 810.0,514.7 812.0,527.5 812.0,512.5 814.0,520.3 816.0,542.7 818.0,524.5 818.0,550.5 820.0,551.2 822.0,536.5 824.0,575.5 824.0,539.5 826.0,551.4 828.0,581.3 830.0,564.5 830.0,595.5 832.0,596.8 834.0,585.2 836.0,615.5 836.0,589.5 838.5,601.7 841.0,617.5 841.0,599.5 843.0,601.9 845.0,613.8 847.0,594.5 847.0,615.5 849.0,610.2 851.0,591.8 853.0,605.5 853.0,579.5 855.3,578.8 857.7,588.4 860.0,564.5 860.0,590.5 862.0,584.2 864.0,563.4 866.0,580.5 866.0,560.5 868.0,565.6 870.0,577.9 872.0,564.5 872.0,585.5 874.0,585.9 876.0,573.7 878.0,590.5 878.0,569.5 880.3,577.7 882.7,587.0 885.0,574.5 885.0,593.5 887.3,589.0 889.7,577.9 892.0,595.5 892.0,579.5 894.3,581.6 896.7,588.7 899.0,574.5 899.0,593.5 901.0,590.5 903.0,569.8 905.0,585.5 905.0,564.5 907.3,561.6 909.7,574.3 912.0,549.5 912.0,575.5 914.0,568.3 916.0,547.1 918.0,565.5 918.0,539.5 920.3,544.0 922.7,558.8 925.0,532.5 925.0,555.5 927.3,551.7 929.7,528.1 932.0,545.5 932.0,524.5 934.0,523.8 936.0,543.6 938.0,519.5 938.0,543.5 940.3,534.7 942.7,526.1 945.0,540.5 945.0,519.5 947.3,522.4 949.7,537.6 952.0,526.5 952.0,540.5 954.0,541.1 956.0,530.3 958.0,547.5 958.0,529.5 960.0,533.3 962.0,545.7 964.0,534.5 964.0,550.5 966.0,548.9 968.0,539.9 970.0,555.5 970.0,539.5 972.3,542.1 974.7,554.0 977.0,544.5 977.0,555.5 979.3,555.0 981.7,546.6 984.0,544.5 984.0,555.5"/>
<polyline stroke="#0000ff" stroke-width="9.5" points="132.5,567.0 134.0,500.0 136.0,420.0 138.0,340.0 140.0,275.0 143.0,245.0 147.0,220.0 151.5,209.0 156.0,214.0 160.0,232.0 163.0,255.0 166.0,275.0 170.0,295.0 175.0,318.0 180.0,345.0 183.0,359.0 190.7,368.7 195.0,372.0 198.7,384.7 203.9,399.0 206.7,407.0 212.8,424.0 214.7,429.4 221.7,442.0 226.0,448.0 233.0,452.0 240.0,452.0 246.0,465.0 250.0,480.0 255.4,502.7 263.0,540.4 270.5,570.5 278.0,593.0 283.0,594.0 288.0,589.3 295.6,573.0 305.6,552.9 318.2,537.8 325.7,515.3 330.7,477.6 335.7,450.0 345.8,441.0 350.0,430.5 356.0,420.0 361.3,412.9 366.0,420.0 370.1,430.5 380.1,455.5 390.2,478.1 395.2,492.6 405.2,497.6 415.3,512.6 425.3,520.2 440.4,525.2 452.9,527.7 462.9,535.2 470.5,550.3 476.7,556.6 483.0,545.3 490.5,520.2 498.1,497.6 505.6,477.5 515.6,443.0 525.6,415.4 535.7,410.4 545.7,417.9 548.2,419.7 556.4,395.0 567.4,386.8 575.6,359.5 583.8,332.1 594.7,299.3 603.0,285.6 613.9,288.3 624.8,293.8 635.8,307.5 644.0,323.9 655.0,332.1 663.2,343.0 668.6,373.2 674.1,400.5 682.3,436.1 690.5,458.0 698.7,455.3 707.0,430.6 715.2,403.3 726.1,384.1 737.0,367.7 745.3,354.0 753.5,365.0 761.7,392.3 769.9,419.7 775.7,444.2 783.6,462.6 791.5,486.2 799.3,512.5 809.8,525.6 817.7,538.7 825.6,564.9 830.8,591.1 836.1,622.6 841.3,635.7 849.2,627.8 857.0,606.9 864.9,588.5 872.8,591.1 883.3,599.0 893.8,606.9 904.2,601.6 912.1,585.9 922.6,572.8 933.1,559.7 941.0,541.3 948.8,549.2 956.7,557.0 964.6,559.7 972.4,570.1 982.9,564.9"/>
</g>
<rect x="130.7" y="75.2" width="853.6" height="689.0" fill="none" stroke="#262626" stroke-width="2"/>
<g font-family="Liberation Sans, Arial, sans-serif" font-weight="bold" font-size="42" fill="#262626" style="font-kerning:none"><text x="115.5" y="90.2" text-anchor="end">50</text><text x="115.5" y="188.6" text-anchor="end">40</text><text x="115.5" y="287.1" text-anchor="end">30</text><text x="115.5" y="385.5" text-anchor="end">20</text><text x="115.5" y="483.9" text-anchor="end">10</text><text x="115.5" y="582.3" text-anchor="end">0</text><text x="115.5" y="680.8" text-anchor="end">-10</text><text x="115.5" y="779.2" text-anchor="end">-20</text><text x="130.7" y="817" text-anchor="middle">0</text><text x="344.1" y="817" text-anchor="middle">60</text><text x="557.5" y="817" text-anchor="middle">120</text><text x="770.9" y="817" text-anchor="middle">180</text><text x="984.3" y="817" text-anchor="middle">240</text><text x="556" y="860" text-anchor="middle">Time(s)</text><text transform="translate(37.6 550.6) rotate(-90)" x="0" y="0">X-direction(<tspan x="232" dy="38.6" font-family="Liberation Serif, serif" font-size="95" font-weight="normal">&#8242;</tspan><tspan x="248.5" dy="-38.6">)</tspan></text></g>
<rect x="355.3" y="7.4" width="594.3" height="258.5" fill="#fff" stroke="#262626" stroke-width="2"/>
<line x1="369.4" y1="37.3" x2="510.4" y2="37.3" stroke="#4d7d05" stroke-width="9"/><circle cx="440" cy="37.3" r="14" fill="none" stroke="#4d7d05" stroke-width="9"/><line x1="369.4" y1="87.3" x2="510.4" y2="87.3" stroke="#000" stroke-width="9" stroke-dasharray="35.2 35.2"/><line x1="369.4" y1="137.1" x2="510.4" y2="137.1" stroke="#ff00ff" stroke-width="9" stroke-dasharray="35.2 8.8 17.6 8.8"/><line x1="369.4" y1="186.6" x2="510.4" y2="186.6" stroke="#ff0000" stroke-width="9" stroke-dasharray="8.8 8.8"/><line x1="369.4" y1="236.4" x2="510.4" y2="236.4" stroke="#0000ff" stroke-width="9"/>
<g font-family="Liberation Sans, Arial, sans-serif" font-weight="bold" font-size="42" fill="#000" style="font-kerning:none"><text x="521" y="52.3">True value</text><text x="521" y="102.3">Traditional method 1</text><text x="521" y="152.1">Traditional method 2</text><text x="521" y="201.6">Traditional method 3</text><text x="521" y="251.4">Proposed method</text></g>
</svg>
</body></html>
